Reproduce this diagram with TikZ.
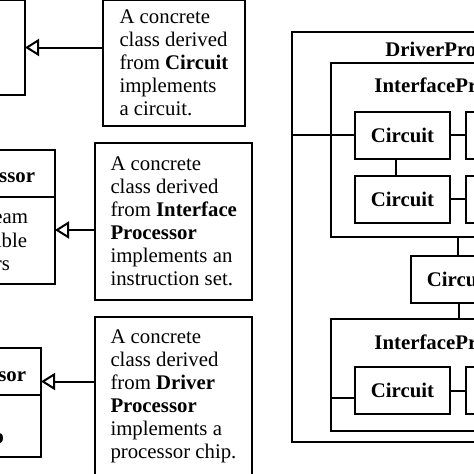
\documentclass[tikz,border=0pt]{standalone}
\usepackage{fontspec}
\setmainfont{Liberation Serif}
\usetikzlibrary{positioning, arrows.meta}

\begin{document}
\begin{tikzpicture}[x=1pt, y=-1pt, line width=2pt, node distance=16pt,
        every node/.style={font=\fontsize{20.8}{23}\selectfont, inner sep=0pt, outer sep=0pt},
        box/.style={draw, rectangle},
        note/.style={box, align=left, inner xsep=15.5pt, anchor=north west},
        circuit/.style={box, minimum width=95pt, minimum height=47pt, font=\fontsize{20.8}{23}\selectfont\bfseries},
        title/.style={anchor=base, font=\fontsize{20.8}{23}\selectfont\bfseries},
        derive/.style={-{Triangle[open, length=14pt, width=17pt]}}]
        \useasboundingbox (0,0) rectangle (474,474);
        \clip (0,0) rectangle (474,474);

        % Base classes on the left, cut by the frame
        \node (circ) [box, anchor=north east, minimum width=200pt, minimum height=95pt] at (25,0) {};
        \node (ip) [box, anchor=north east, minimum width=200pt, minimum height=134pt] at (55,150) {};
        \draw (ip.west |- 0,197) -- (ip.east |- 0,197);
        \node (ipname) [title, anchor=base east] at (35,182) {InterfaceProcessor};
        \foreach \txt/\x/\y [count=\i] in {bitstream/28/223, executable/27/247, registers/10/270} {
            \node (iptxt\i) [anchor=base east] at (\x,\y) {\txt};
        }
        \node (dp) [box, anchor=north east, minimum width=200pt, minimum height=109pt] at (41,348) {};
        \draw (dp.west |- 0,395) -- (dp.east |- 0,395);
        \node (dpname) [title, anchor=base east] at (26,381) {DriverProcessor};
        \node (dptxt) [anchor=base east] at (4,443) {\textbf{Chip}};

        % Notes on the concrete classes
        \node (circnote) [note, inner xsep=16.5pt, minimum height=126pt] at (103,0) {A concrete\\class derived\\from \textbf{Circuit}\\implements\\a circuit.};
        \node (ipnote) [note, minimum height=157pt] at (95,143) {A concrete\\class derived\\from \textbf{Interface}\\\textbf{Processor}\\implements an\\instruction set.};
        \node (dpnote) [note, minimum height=158pt] at (95,317) {A concrete\\class derived\\from \textbf{Driver}\\\textbf{Processor}\\implements a\\processor chip.};

        \draw[derive] (circnote.west |- circ.east) -- (circ.east);
        \draw[derive] ([yshift=-8.5pt]ipnote.west) -- ([yshift=-8.5pt]ipnote.west -| ip.east);
        \draw[derive] ([yshift=14.5pt]dpnote.west) -- ([yshift=14.5pt]dpnote.west -| dp.east);

        % Composition on the right
        \node (drv) [box, anchor=north west, minimum width=332pt, minimum height=410pt] at (292,32) {};
        \node (drvname) [title] at (458,56.7) {DriverProcessor};
        \node (ifa) [box, anchor=north west, minimum width=254pt, minimum height=174pt] at (331,63) {};
        \node (ifaname) [title] at (458,92.7) {InterfaceProcessor};
        \node (c1) [circuit] at (402.5,135) {Circuit};
        \node (c2) [circuit, right=of c1] {Circuit};
        \node (c3) [circuit, below=17pt of c1] {Circuit};
        \node (c4) [circuit, right=of c3] {Circuit};
        \node (cm) [circuit] at (458.5,279.5) {Circuit};
        \node (ifb) [box, anchor=north west, minimum width=254pt, minimum height=112pt] at (331,319) {};
        \node (ifbname) [title] at (458,349) {InterfaceProcessor};
        \node (c5) [circuit] at (402.5,390.5) {Circuit};
        \node (c6) [circuit, right=of c5] {Circuit};

        \draw (c1) -- (c2);
        \draw (c3) -- (c4);
        \draw ([xshift=-6.5pt]c1.south) -- ([xshift=-6.5pt]c3.north);
        \draw (drv.west |- c1.west) -- (c1.west);
        \draw (ifa.south) -- (ifa.south |- cm.north);
        \draw (cm.south) -- (cm.south |- ifb.north);
        \draw (c5) -- (c6);
        \draw ([yshift=-7.5pt]c5.west) -- ([yshift=-7.5pt]c5.west -| ifb.west);
\end{tikzpicture}
\end{document}
